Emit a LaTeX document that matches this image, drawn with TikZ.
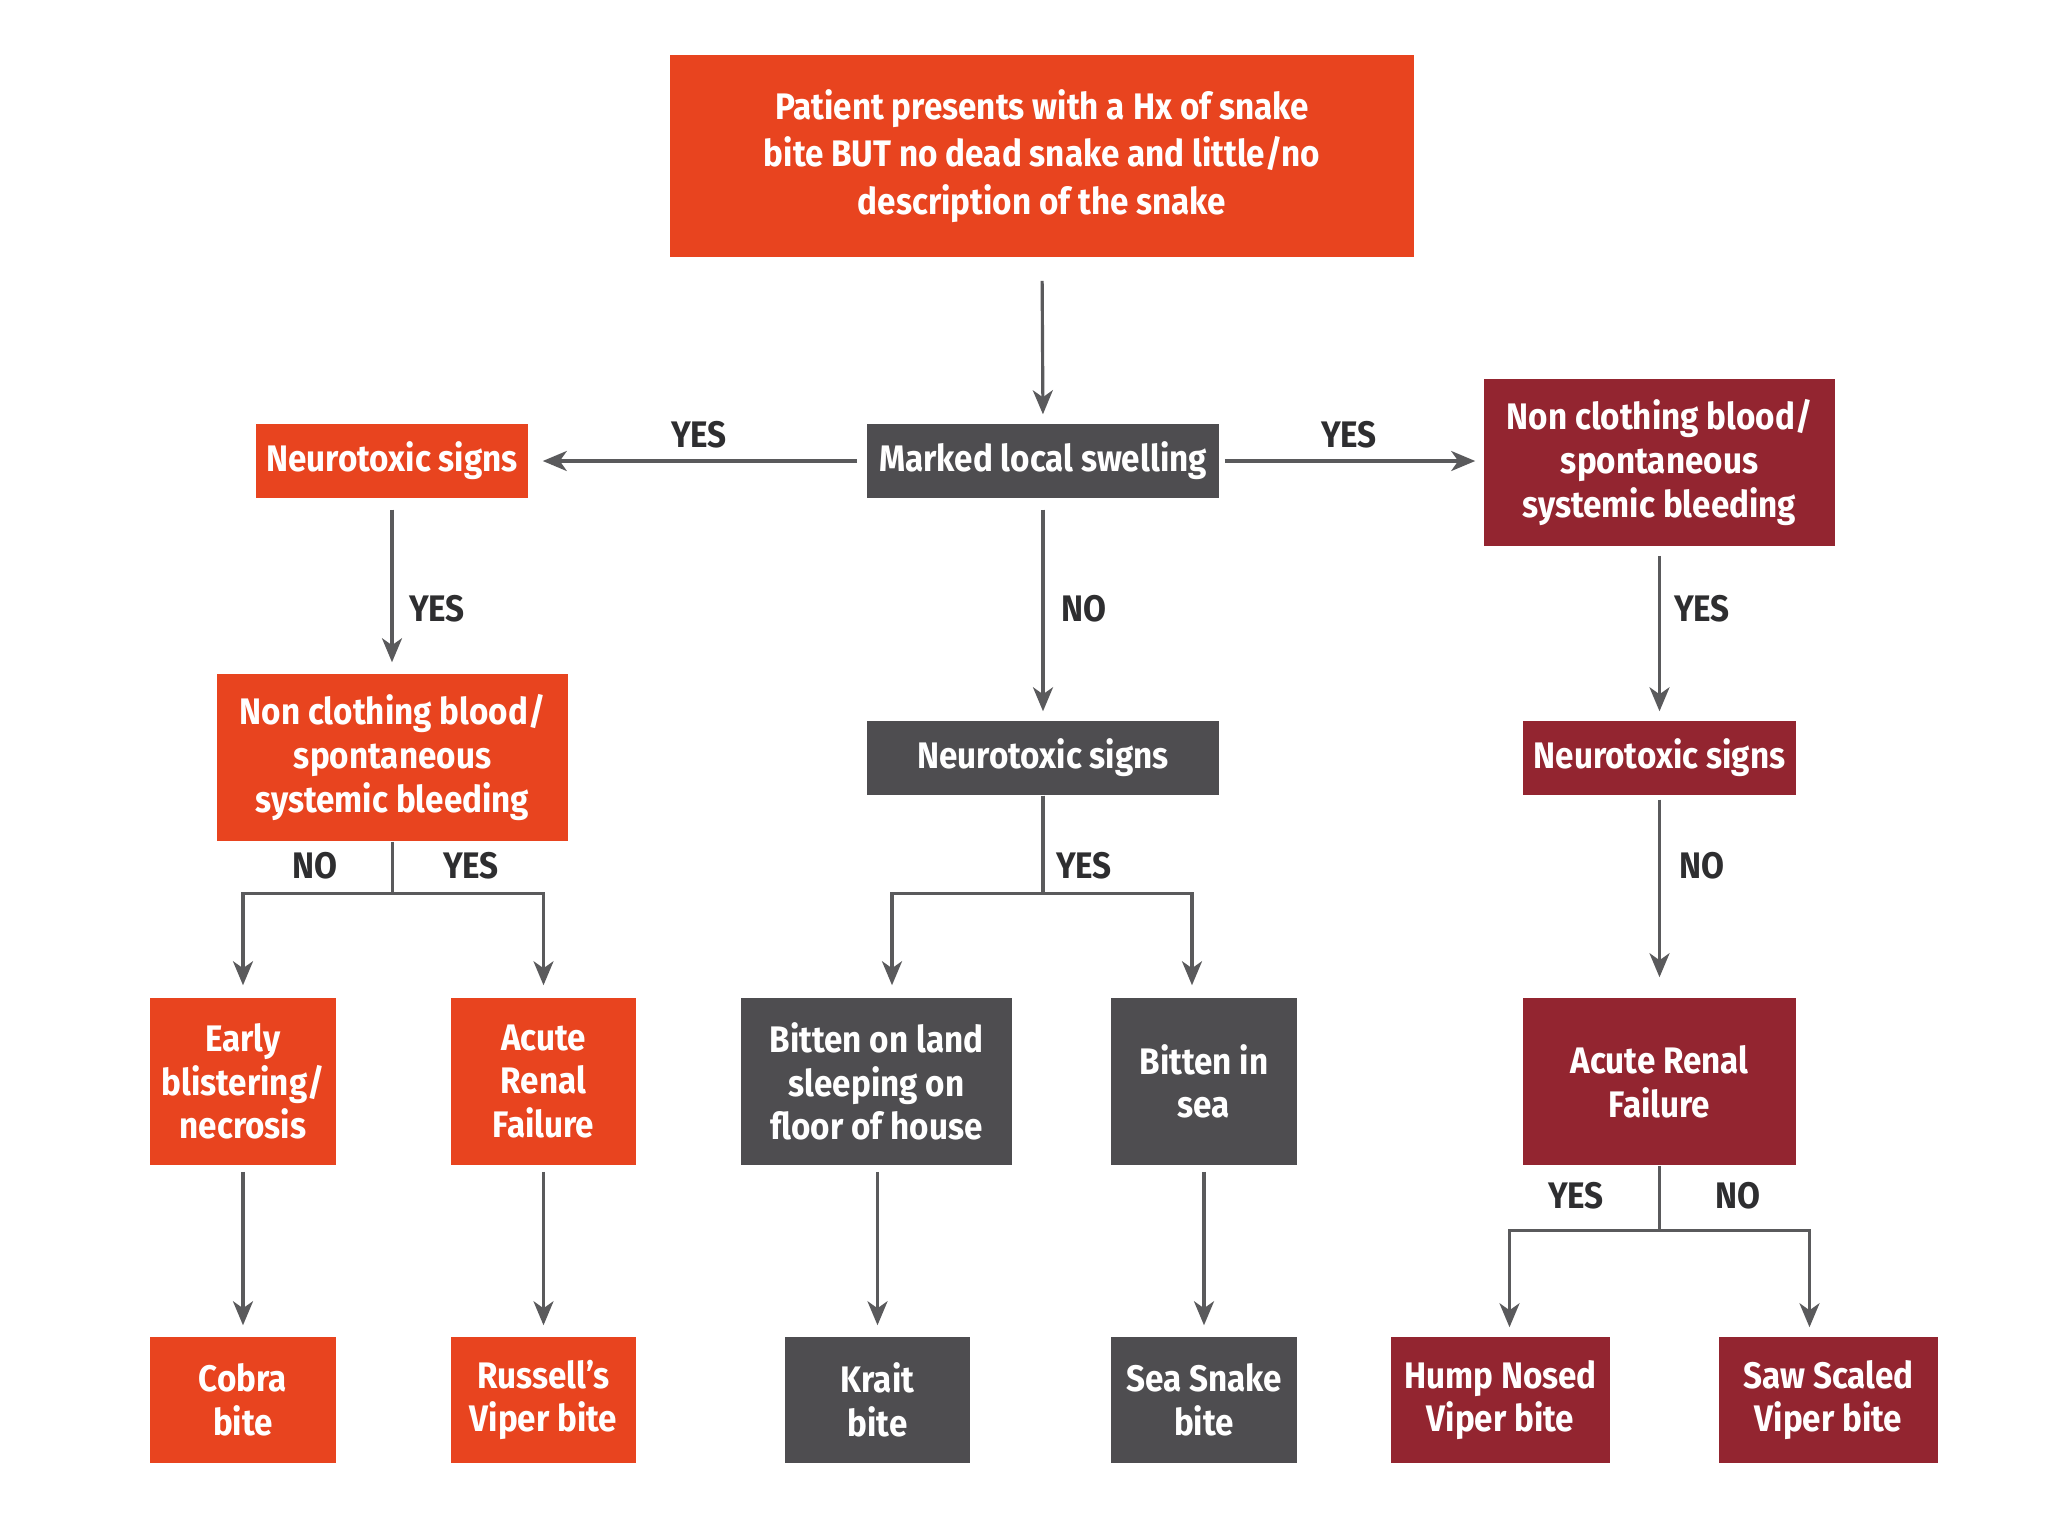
\documentclass[tikz,border=0pt]{standalone}
\usepackage{fontspec}
\setmainfont[FakeStretch=0.9]{Fira Sans}
\usetikzlibrary{arrows.meta}
\definecolor{org}{HTML}{E8441F}
\definecolor{drd}{HTML}{932530}
\definecolor{gry}{HTML}{4E4D50}
\definecolor{lin}{HTML}{5A5A5C}
\definecolor{lbc}{HTML}{2E2E30}
\begin{document}
\begin{tikzpicture}[x=0.01cm,y=-0.01cm,
  box/.style={inner sep=0pt, align=center, text=white, font=\fontsize{10.5}{12.4}\selectfont\bfseries},
  obox/.style={box, fill=org},
  rbox/.style={box, fill=drd},
  gbox/.style={box, fill=gry},
  lbl/.style={inner sep=1pt, text=lbc, font=\fontsize{10.5}{12.4}\selectfont\bfseries},
  arr/.style={draw=lin, line width=0.9pt, -{Stealth[length=0.24cm, width=0.2cm, inset=0.07cm]}, shorten <=0.08cm, shorten >=0.1cm},
  ln/.style={draw=lin, line width=0.9pt}
]
\fill[white] (0,0) rectangle (2048,1536);
\useasboundingbox (0,0) rectangle (2048,1536);

% nodes
\node[obox, minimum width=7.44cm, minimum height=2.02cm, font=\fontsize{10.5}{13.6}\selectfont\bfseries] (top) at (1042,156)
  {Patient presents with a Hx of snake\\bite BUT no dead snake and little/no\\description of the snake};
\node[gbox, minimum width=3.52cm, minimum height=0.74cm] (swell) at (1043,461) {Marked local swelling};
\node[obox, minimum width=2.72cm, minimum height=0.74cm] (ntL) at (392,461) {Neurotoxic signs};
\node[rbox, minimum width=3.51cm, minimum height=1.67cm] (bleedR) at (1659.5,462.5) {Non clothing blood/\\spontaneous\\systemic bleeding};
\node[obox, minimum width=3.51cm, minimum height=1.67cm] (bleedL) at (392.5,757.5) {Non clothing blood/\\spontaneous\\systemic bleeding};
\node[gbox, minimum width=3.52cm, minimum height=0.74cm] (ntC) at (1043,758) {Neurotoxic signs};
\node[rbox, minimum width=2.73cm, minimum height=0.74cm] (ntR) at (1659.5,758) {Neurotoxic signs};

\node[obox, minimum width=1.86cm, minimum height=1.67cm] (early) at (243,1081.5) {Early\\blistering/\\necrosis};
\node[obox, minimum width=1.85cm, minimum height=1.67cm] (arfL) at (543.5,1081.5) {Acute\\Renal\\Failure};
\node[gbox, minimum width=2.71cm, minimum height=1.67cm] (land) at (876.5,1081.5) {Bitten on land\\sleeping on\\floor of house};
\node[gbox, minimum width=1.86cm, minimum height=1.67cm] (sea) at (1204,1081.5) {Bitten in\\sea};
\node[rbox, minimum width=2.73cm, minimum height=1.67cm] (arfR) at (1659.5,1081.5) {Acute Renal\\Failure};

\node[obox, minimum width=1.86cm, minimum height=1.26cm] (cobra) at (243,1400) {Cobra\\bite};
\node[obox, minimum width=1.85cm, minimum height=1.26cm] (russell) at (543.5,1400) {Russell’s\\Viper bite};
\node[gbox, minimum width=1.85cm, minimum height=1.26cm] (krait) at (877.5,1400) {Krait\\bite};
\node[gbox, minimum width=1.86cm, minimum height=1.26cm] (seasnake) at (1204,1400) {Sea Snake\\bite};
\node[rbox, minimum width=2.19cm, minimum height=1.26cm] (hump) at (1500.5,1400) {Hump Nosed\\Viper bite};
\node[rbox, minimum width=2.19cm, minimum height=1.26cm] (saw) at (1828.5,1400) {Saw Scaled\\Viper bite};

% connectors
\draw[arr, shorten <=0.23cm, shorten >=0.09cm] (top.south) -- (swell.north);
\draw[arr, shorten <=0.09cm, shorten >=0.14cm] (swell.west) -- (ntL.east);
\draw[arr, shorten <=0.05cm, shorten >=0.08cm] (swell.east) -- (swell.east -| bleedR.west);
\draw[arr, shorten <=0.11cm, shorten >=0.09cm] (swell.south) -- (ntC.north);
\draw[arr, shorten <=0.11cm, shorten >=0.11cm] (ntL.south) -- (ntL.south |- bleedL.north);
\draw[arr, shorten <=0.09cm, shorten >=0.09cm] (bleedR.south) -- (ntR.north);
\draw[arr, shorten <=0.04cm, shorten >=0.2cm] (ntR.south) -- (arfR.north);

\draw[arr, shorten <=0cm, shorten >=0.12cm] (bleedL.south) -- ++(0,52) -| (early.north);
\draw[arr, shorten <=0cm, shorten >=0.12cm] (bleedL.south) -- ++(0,52) -| (arfL.north);
\draw[arr, shorten <=0cm, shorten >=0.12cm] (ntC.south) -- ++(0,98) -| ([xshift=0.155cm]land.north);
\draw[arr, shorten <=0cm, shorten >=0.12cm] (ntC.south) -- ++(0,98) -| ([xshift=-0.12cm]sea.north);
\draw[arr, shorten <=0cm, shorten >=0.09cm] (arfR.south) -- ++(0,65) -| ([xshift=0.09cm]hump.north);
\draw[arr, shorten <=0cm, shorten >=0.09cm] (arfR.south) -- ++(0,65) -| ([xshift=-0.19cm]saw.north);

\draw[arr, shorten <=0.06cm, shorten >=0.11cm] (early.south) -- (cobra.north);
\draw[arr, shorten <=0.06cm, shorten >=0.11cm] (arfL.south) -- (russell.north);
\draw[arr, shorten <=0.06cm, shorten >=0.11cm] (land.south -| krait.north) -- (krait.north);
\draw[arr, shorten <=0.06cm, shorten >=0.11cm] (sea.south) -- (seasnake.north);

% labels
\node[lbl] (y1) at (699,435) {YES};
\node[lbl] (y2) at (1349,435) {YES};
\node[lbl] (n1) at (1084,609) {NO};
\node[lbl] (y3) at (437,609) {YES};
\node[lbl] (y4) at (1702,609) {YES};
\node[lbl] (n2) at (315,866) {NO};
\node[lbl] (y5) at (471,866) {YES};
\node[lbl] (y6) at (1084,866) {YES};
\node[lbl] (n3) at (1702,866) {NO};
\node[lbl] (y7) at (1576,1196) {YES};
\node[lbl] (n4) at (1738,1196) {NO};
\end{tikzpicture}
\end{document}
